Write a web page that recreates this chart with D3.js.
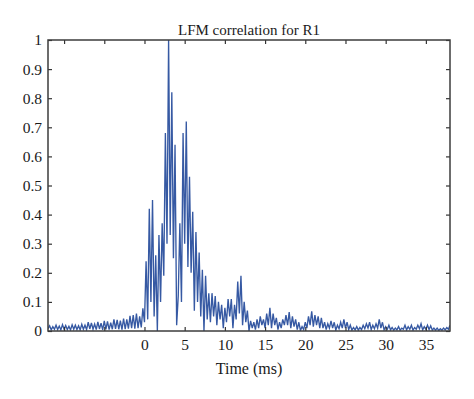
<!DOCTYPE html>
<html>
<head>
<meta charset="utf-8">
<script src="https://cdn.jsdelivr.net/npm/d3@7"></script>
<style>
  body { margin: 0; background: #fff; }
  svg { display: block; font-family: "Liberation Serif", "DejaVu Serif", serif; }
</style>
</head>
<body>
<div id="chart"></div>
<script>
// sampling grid of the correlation trace (ms)
const tStart = -12;
const tStep = 0.2;

// normalised correlation magnitude, one value per sample
const corr = [
  // -12 .. -0.2
  0.008, 0.018, 0.004, 0.015, 0.006, 0.02, 0.005, 0.017, 0.004, 0.022,
  0.006, 0.019, 0.005, 0.016, 0.004, 0.021, 0.006, 0.02, 0.005, 0.018,
  0.004, 0.023, 0.006, 0.02, 0.005, 0.03, 0.007, 0.028, 0.006, 0.024,
  0.005, 0.031, 0.007, 0.027, 0.004, 0.035, 0.006, 0.033, 0.005, 0.029,
  0.006, 0.04, 0.007, 0.038, 0.006, 0.036, 0.005, 0.043, 0.006, 0.04,
  0.008, 0.052, 0.01, 0.055, 0.008, 0.06, 0.01, 0.05, 0.012, 0.078,
  // 0 .. 8
  0.03, 0.24, 0.04, 0.42, 0.1, 0.45, 0.05, 0.26, 0.0, 0.33,
  0.1, 0.37, 0.19, 0.68, 0.3, 1.0, 0.33, 0.82, 0.25, 0.64,
  0.02, 0.12, 0.37, 0.1, 0.68, 0.3, 0.72, 0.22, 0.53, 0.2,
  0.41, 0.07, 0.34, 0.1, 0.27, 0.05, 0.21, 0.0, 0.19, 0.04,
  0.13,
  // 8.2 .. 38
  0.03, 0.13, 0.05, 0.12, 0.02, 0.10, 0.04, 0.09, 0.01, 0.08,
  0.03, 0.11, 0.05, 0.11, 0.01, 0.09, 0.04, 0.17, 0.06, 0.19,
  0.02, 0.10, 0.03, 0.07, 0.0, 0.035, 0.01, 0.03, 0.005, 0.04,
  0.01, 0.05, 0.02, 0.04, 0.01, 0.06, 0.02, 0.08, 0.01, 0.06,
  0.02, 0.045, 0.005, 0.03, 0.01, 0.04, 0.02, 0.055, 0.02, 0.065,
  0.01, 0.05, 0.015, 0.04, 0.005, 0.03, 0.002, 0.015, 0.005, 0.03,
  0.01, 0.05, 0.02, 0.068, 0.015, 0.055, 0.02, 0.05, 0.01, 0.045,
  0.01, 0.03, 0.005, 0.025, 0.01, 0.035, 0.01, 0.03, 0.003, 0.02,
  0.008, 0.03, 0.01, 0.04, 0.01, 0.03, 0.005, 0.02, 0.003, 0.012,
  0.004, 0.015, 0.003, 0.012, 0.005, 0.02, 0.008, 0.025, 0.01, 0.03,
  0.005, 0.02, 0.008, 0.025, 0.01, 0.04, 0.01, 0.03, 0.004, 0.015,
  0.006, 0.02, 0.004, 0.012, 0.003, 0.01, 0.004, 0.015, 0.003, 0.01,
  0.006, 0.02, 0.004, 0.015, 0.006, 0.02, 0.003, 0.012, 0.006, 0.02,
  0.008, 0.025, 0.004, 0.015, 0.006, 0.02, 0.005, 0.018, 0.003, 0.01,
  0.003, 0.01, 0.002, 0.008, 0.003, 0.01, 0.004, 0.012, 0.006, 0.02
];

const xTicks = [-10, -5, 0, 5, 10, 15, 20, 25, 30, 35];
const yTicks = [0, 0.1, 0.2, 0.3, 0.4, 0.5, 0.6, 0.7, 0.8, 0.9, 1];
const title = "LFM correlation for R1";
const xLabel = "Time (ms)";

const width = 474, height = 399;
const margin = { top: 40, right: 24, bottom: 68, left: 48 };
const innerW = width - margin.left - margin.right;
const innerH = height - margin.top - margin.bottom;

const svg = d3.select("#chart").append("svg")
    .attr("width", width)
    .attr("height", height);

const g = svg.append("g")
    .attr("transform", `translate(${margin.left},${margin.top})`);

const x = d3.scaleLinear().domain([-12, 38]).range([0, innerW]);
const y = d3.scaleLinear().domain([0, 1]).range([innerH, 0]);

g.append("clipPath").attr("id", "plot-clip")
  .append("rect").attr("width", innerW).attr("height", innerH);

// the trace
const line = d3.line()
    .x((d, i) => x(tStart + i * tStep))
    .y(d => y(d));

g.append("path")
    .datum(corr)
    .attr("clip-path", "url(#plot-clip)")
    .attr("fill", "none")
    .attr("stroke", "#3659a3")
    .attr("stroke-width", 1.35)
    .attr("stroke-linejoin", "miter")
    .attr("d", line);

// axes, ticks pointing inward like matlab
const tickLen = 4;
const fmtX = d => d < 0 ? "" : d3.format("d")(d);

const styleAxis = sel => {
  sel.select(".domain").remove();
  sel.selectAll(".tick line").attr("stroke", "#333").attr("stroke-width", 1.2);
  sel.selectAll(".tick text").attr("fill", "#1a1a1a").style("font-size", "15.5px")
    .style("font-family", "'Liberation Serif', 'DejaVu Serif', serif");
};

g.append("g")
    .attr("transform", `translate(0,${innerH})`)
    .call(d3.axisBottom(x).tickValues(xTicks).tickFormat(fmtX).tickSize(-tickLen).tickPadding(8))
    .call(styleAxis);

g.append("g")
    .call(d3.axisTop(x).tickValues(xTicks).tickFormat("").tickSize(-tickLen))
    .call(styleAxis);

g.append("g")
    .call(d3.axisLeft(y).tickValues(yTicks).tickFormat(d3.format("~g")).tickSize(-tickLen).tickPadding(6))
    .call(styleAxis);

g.append("g")
    .attr("transform", `translate(${innerW},0)`)
    .call(d3.axisRight(y).tickValues(yTicks).tickFormat("").tickSize(-tickLen))
    .call(styleAxis);

// box
g.append("rect")
    .attr("width", innerW)
    .attr("height", innerH)
    .attr("fill", "none")
    .attr("stroke", "#3d3d3d")
    .attr("stroke-width", 1.5);

svg.append("text")
    .attr("x", margin.left + innerW / 2)
    .attr("y", 35)
    .attr("text-anchor", "middle")
    .attr("fill", "#1a1a1a")
    .style("font-size", "15px")
    .text(title);

svg.append("text")
    .attr("x", margin.left + innerW / 2)
    .attr("y", 374)
    .attr("text-anchor", "middle")
    .attr("fill", "#1a1a1a")
    .style("font-size", "16px")
    .text(xLabel);
</script>
</body>
</html>
